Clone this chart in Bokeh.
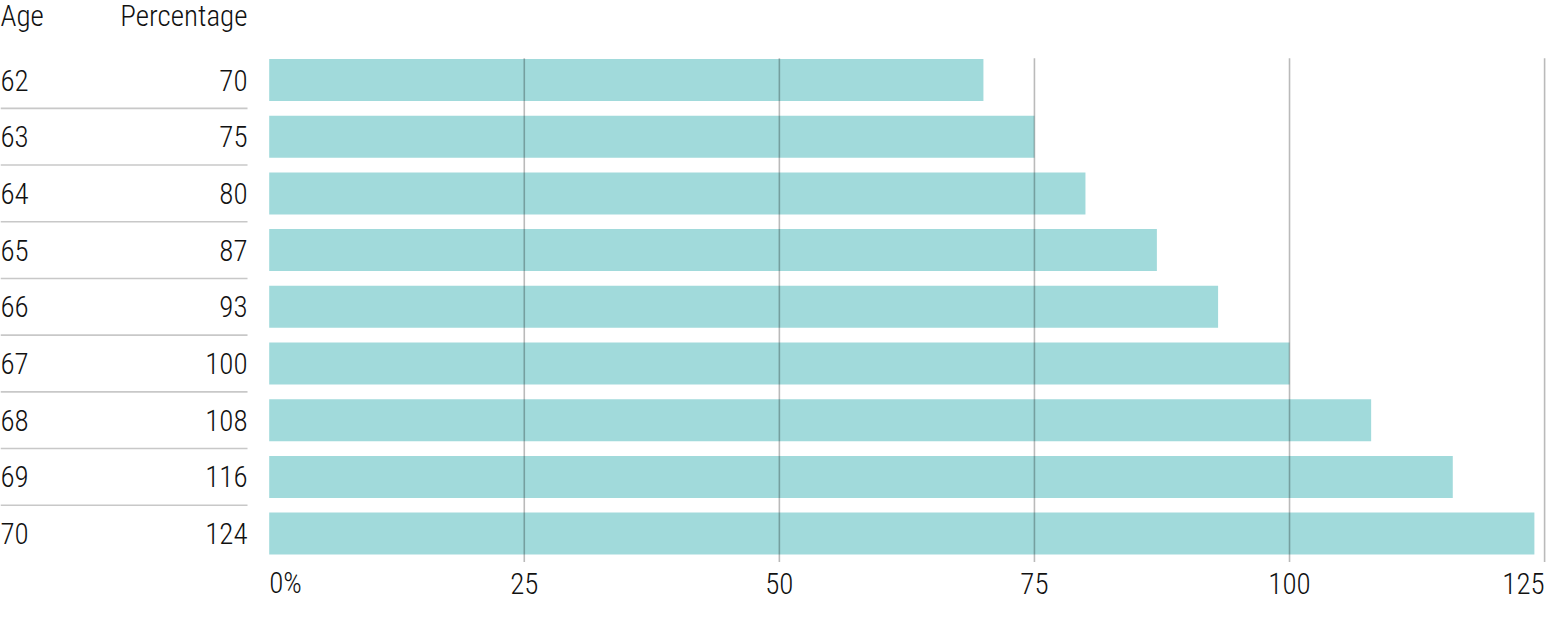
from bokeh.plotting import figure
from bokeh.models import Range1d, ColumnDataSource
from bokeh.core.properties import value
from bokeh.embed import file_html
from bokeh.resources import INLINE

ages = ["62", "63", "64", "65", "66", "67", "68", "69", "70"]
percentages = [70, 75, 80, 87, 93, 100, 108, 116, 124]
tick_values = [0, 25, 50, 75, 100, 125]
tick_labels = ["0%", "25", "50", "75", "100", "125"]
header_age = "Age"
header_pct = "Percentage"

FONT = value("'Roboto Condensed Light', 'Roboto Condensed', Roboto, sans-serif")
TXT = "#111111"
FS = "29px"

W, H = 1546, 601
x0_px, x125_px = 268.7, 1544.1
ppu = (x125_px - x0_px) / 125.0
row0_px = 79.5
pitch = 56.7

p = figure(width=W, height=H, output_backend="svg", toolbar_location=None,
           min_border=0, min_border_left=0, min_border_right=0,
           min_border_top=0, min_border_bottom=0)
p.x_range = Range1d(-x0_px / ppu, (W - x0_px) / ppu)
p.y_range = Range1d((H - row0_px) / pitch, -row0_px / pitch)
p.axis.visible = False
p.grid.visible = False
p.outline_line_color = None
p.background_fill_color = "white"
p.border_fill_color = "white"

rows = list(range(len(ages)))
src = ColumnDataSource(dict(row=rows, pct=percentages, age=ages,
                            pct_txt=[str(v) for v in percentages]))

# bars
p.hbar(y="row", left=0, right="pct", height=0.74, source=src,
       fill_color="#a1dadb", line_color=None)

# gridlines (drawn on top of bars)
grid_vals = [t for t in tick_values if t > 0]
p.segment(x0=grid_vals, x1=grid_vals, y0=[-0.385] * len(grid_vals),
          y1=[8.5] * len(grid_vals), line_color="black", line_alpha=0.27,
          line_width=1.6)

# row separators in the table
label_right = -(x0_px - 247) / ppu
label_left = -x0_px / ppu
seps = [r + 0.5 for r in rows[:-1]]
p.segment(x0=[label_left] * len(seps), x1=[label_right] * len(seps),
          y0=seps, y1=seps, line_color="#c8c8c8", line_width=1.6)

# table labels
p.text(x=label_left, y="row", text="age", source=src, text_font=FONT,
       text_font_size=FS, text_color=TXT, text_align="left",
       text_baseline="middle")
p.text(x=label_right, y="row", text="pct_txt", source=src, text_font=FONT,
       text_font_size=FS, text_color=TXT, text_align="right",
       text_baseline="middle")

# headers
hdr_row = -1.12
p.text(x=[label_left], y=[hdr_row], text=[header_age], text_font=FONT,
       text_font_size=FS, text_color=TXT, text_align="left",
       text_baseline="middle")
p.text(x=[label_right], y=[hdr_row], text=[header_pct], text_font=FONT,
       text_font_size=FS, text_color=TXT, text_align="right",
       text_baseline="middle")

# x tick labels
aligns = ["left"] + ["center"] * (len(tick_values) - 2) + ["right"]
tsrc = ColumnDataSource(dict(x=tick_values, t=tick_labels, a=aligns,
                             y=[8.88] * len(tick_values)))
p.text(x="x", y="y", text="t", text_align="a", source=tsrc, text_font=FONT,
       text_font_size=FS, text_color=TXT, text_baseline="middle")

open("out.html", "w").write(file_html(p, INLINE))
